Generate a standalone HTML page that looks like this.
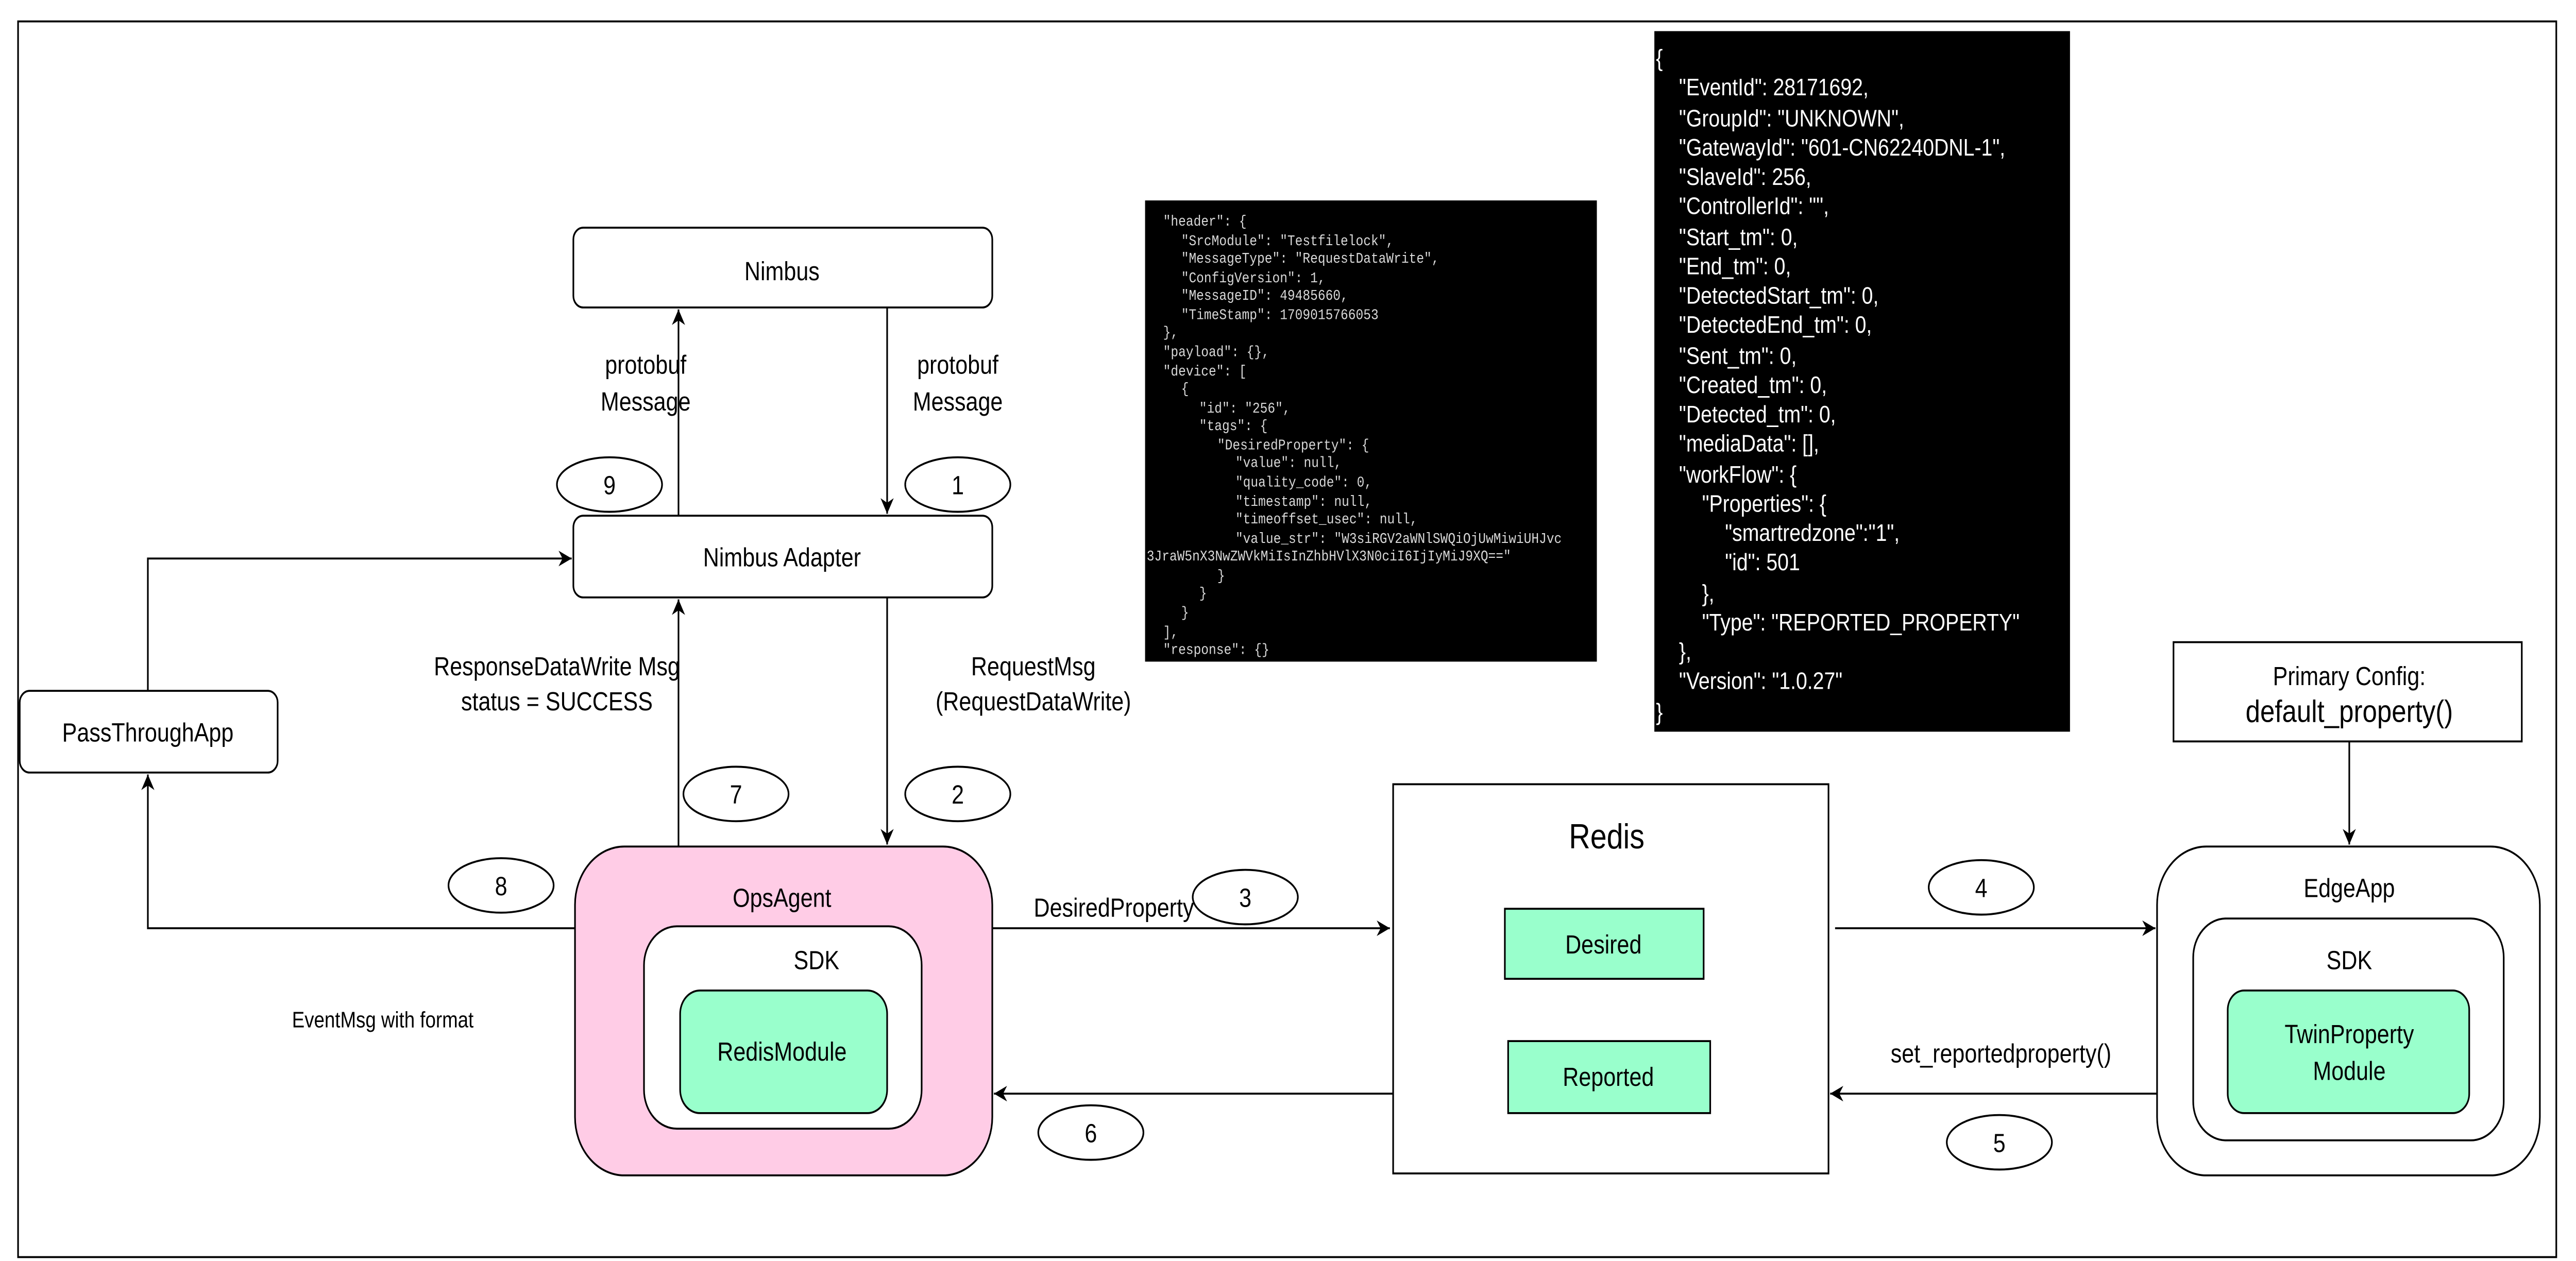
<!DOCTYPE html>
<html><head><meta charset="utf-8"><style>
html,body{margin:0;padding:0;background:#fff;width:100vw;height:100vh;overflow:hidden}
svg{display:block;width:100vw;height:100vh}
text{font-family:"Liberation Sans",Arial,sans-serif}
.c{text-anchor:middle}
.m text{font-family:"Liberation Mono","Courier New",monospace;fill:#d8d8d8}
.w text{fill:#fff}
</style></head><body>
<svg viewBox="0 0 1568 648" preserveAspectRatio="none" xmlns="http://www.w3.org/2000/svg">
<defs>
<marker id="a" viewBox="0 0 10 10" refX="10" refY="5" markerWidth="8" markerHeight="8" orient="auto" markerUnits="userSpaceOnUse">
<path d="M0,0 L10,5 L0,10 L3,5 Z" fill="#000"/></marker>
</defs>
<rect x="11" y="11" width="1545" height="635" fill="#fff" stroke="#000" stroke-width="1"/>

<g stroke="#000" stroke-width="1" fill="none">
<rect x="349" y="117" width="255" height="41" rx="6" fill="#fff"/>
<rect x="349" y="265" width="255" height="42" rx="6" fill="#fff"/>
<rect x="12" y="355" width="157" height="42" rx="6" fill="#fff"/>
<line x1="413" y1="265" x2="413" y2="159" marker-end="url(#a)"/>
<line x1="540" y1="158" x2="540" y2="264" marker-end="url(#a)"/>
<polyline points="90,355 90,287 348,287" marker-end="url(#a)"/>
<polyline points="350,477 90,477 90,398" marker-end="url(#a)"/>
<line x1="540" y1="307" x2="540" y2="434" marker-end="url(#a)"/>
<line x1="413" y1="435" x2="413" y2="308" marker-end="url(#a)"/>
<line x1="604" y1="477" x2="846" y2="477" marker-end="url(#a)"/>
<line x1="1113" y1="562" x2="605" y2="562" marker-end="url(#a)"/>
<line x1="1117" y1="477" x2="1312" y2="477" marker-end="url(#a)"/>
<line x1="1313" y1="562" x2="1114" y2="562" marker-end="url(#a)"/>
<line x1="1430" y1="381" x2="1430" y2="434" marker-end="url(#a)"/>

<rect x="350" y="435" width="254" height="169" rx="30" fill="#FFCCE6"/>
<rect x="392" y="476" width="169" height="104" rx="20" fill="#fff"/>
<rect x="414" y="509" width="126" height="63" rx="12" fill="#99FFCC"/>

<rect x="848" y="403" width="265" height="200" fill="#fff"/>
<rect x="916" y="467" width="121" height="36" fill="#99FFCC"/>
<rect x="918" y="535" width="123" height="37" fill="#99FFCC"/>

<rect x="1313" y="435" width="233" height="169" rx="30" fill="#fff"/>
<rect x="1335" y="472" width="189" height="114" rx="20" fill="#fff"/>
<rect x="1356" y="509" width="147" height="63" rx="10" fill="#99FFCC"/>
<rect x="1323" y="330" width="212" height="51" fill="#fff"/>

<ellipse cx="371" cy="249" rx="32" ry="14"/>
<ellipse cx="583" cy="249" rx="32" ry="14"/>
<ellipse cx="448" cy="408" rx="32" ry="14"/>
<ellipse cx="583" cy="408" rx="32" ry="14"/>
<ellipse cx="305" cy="455" rx="32" ry="14"/>
<ellipse cx="758" cy="461" rx="32" ry="14"/>
<ellipse cx="664" cy="582" rx="32" ry="14"/>
<ellipse cx="1206" cy="456" rx="32" ry="14"/>
<ellipse cx="1217" cy="587" rx="32" ry="14"/>
</g>

<g font-size="13.5" fill="#000">
<text class="c" x="476" y="144">Nimbus</text>
<text class="c" x="476" y="291">Nimbus Adapter</text>
<text class="c" x="90" y="381">PassThroughApp</text>
<text class="c" x="393" y="192">protobuf</text>
<text class="c" x="393" y="211">Message</text>
<text class="c" x="583" y="192">protobuf</text>
<text class="c" x="583" y="211">Message</text>
<text class="c" x="339" y="347">ResponseDataWrite Msg</text>
<text class="c" x="339" y="365">status = SUCCESS</text>
<text class="c" x="629" y="347">RequestMsg</text>
<text class="c" x="629" y="365">(RequestDataWrite)</text>
<text class="c" x="476" y="466">OpsAgent</text>
<text class="c" x="497" y="498">SDK</text>
<text class="c" x="476" y="545">RedisModule</text>
<text class="c" x="678" y="471">DesiredProperty</text>
<text class="c" x="976" y="490">Desired</text>
<text class="c" x="979" y="558">Reported</text>
<text class="c" x="1218" y="546">set_reportedproperty()</text>
<text class="c" x="1430" y="461">EdgeApp</text>
<text class="c" x="1430" y="498">SDK</text>
<text class="c" x="1430" y="536">TwinProperty</text>
<text class="c" x="1430" y="555">Module</text>
<text class="c" x="1430" y="352">Primary Config:</text>
<text class="c" x="1430" y="371" font-size="16">default_property()</text>
<text class="c" x="371" y="254">9</text>
<text class="c" x="583" y="254">1</text>
<text class="c" x="448" y="413">7</text>
<text class="c" x="583" y="413">2</text>
<text class="c" x="305" y="460">8</text>
<text class="c" x="758" y="466">3</text>
<text class="c" x="664" y="587">6</text>
<text class="c" x="1206" y="461">4</text>
<text class="c" x="1217" y="592">5</text>
<text class="c" x="233" y="528" font-size="11.5">EventMsg with format</text>
<text class="c" x="978" y="436" font-size="18">Redis</text>
</g>

<rect x="697" y="103" width="275" height="237" fill="#000"/>
<g class="m" font-size="7.7">
<text x="708" y="116">"header": {</text>
<text x="719" y="126">"SrcModule": "Testfilelock",</text>
<text x="719" y="135">"MessageType": "RequestDataWrite",</text>
<text x="719" y="145">"ConfigVersion": 1,</text>
<text x="719" y="154">"MessageID": 49485660,</text>
<text x="719" y="164">"TimeStamp": 1709015766053</text>
<text x="708" y="173">},</text>
<text x="708" y="183">"payload": {},</text>
<text x="708" y="193">"device": [</text>
<text x="719" y="202">{</text>
<text x="730" y="212">"id": "256",</text>
<text x="730" y="221">"tags": {</text>
<text x="741" y="231">"DesiredProperty": {</text>
<text x="752" y="240">"value": null,</text>
<text x="752" y="250">"quality_code": 0,</text>
<text x="752" y="260">"timestamp": null,</text>
<text x="752" y="269">"timeoffset_usec": null,</text>
<text x="752" y="279">"value_str": "W3siRGV2aWNlSWQiOjUwMiwiUHJvc</text>
<text x="698" y="288">3JraW5nX3NwZWVkMiIsInZhbHVlX3N0ciI6IjIyMiJ9XQ=="</text>
<text x="741" y="298">}</text>
<text x="730" y="307">}</text>
<text x="719" y="317">}</text>
<text x="708" y="327">],</text>
<text x="708" y="336">"response": {}</text>
</g>

<rect x="1007" y="16" width="253" height="360" fill="#000"/>
<g class="w" font-size="12.3">
<text x="1008" y="34">{</text>
<text x="1022" y="49">"EventId": 28171692,</text>
<text x="1022" y="65">"GroupId": "UNKNOWN",</text>
<text x="1022" y="80">"GatewayId": "601-CN62240DNL-1",</text>
<text x="1022" y="95">"SlaveId": 256,</text>
<text x="1022" y="110">"ControllerId": "",</text>
<text x="1022" y="126">"Start_tm": 0,</text>
<text x="1022" y="141">"End_tm": 0,</text>
<text x="1022" y="156">"DetectedStart_tm": 0,</text>
<text x="1022" y="171">"DetectedEnd_tm": 0,</text>
<text x="1022" y="187">"Sent_tm": 0,</text>
<text x="1022" y="202">"Created_tm": 0,</text>
<text x="1022" y="217">"Detected_tm": 0,</text>
<text x="1022" y="232">"mediaData": [],</text>
<text x="1022" y="248">"workFlow": {</text>
<text x="1036" y="263">"Properties": {</text>
<text x="1050" y="278">"smartredzone":"1",</text>
<text x="1050" y="293">"id": 501</text>
<text x="1036" y="309">},</text>
<text x="1036" y="324">"Type": "REPORTED_PROPERTY"</text>
<text x="1022" y="339">},</text>
<text x="1022" y="354">"Version": "1.0.27"</text>
<text x="1008" y="370">}</text>
</g>
</svg>
</body></html>
